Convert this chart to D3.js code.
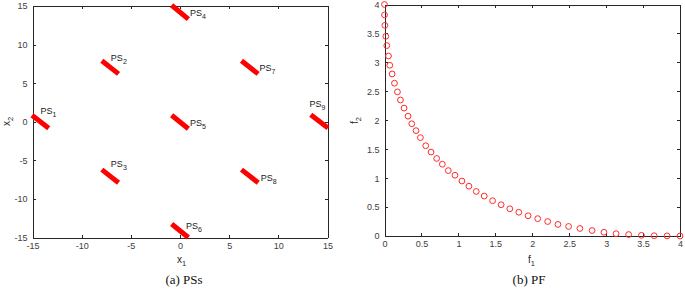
<!DOCTYPE html>
<html><head><meta charset="utf-8">
<script src="https://cdn.jsdelivr.net/npm/d3@7"></script>
<style>
html,body{margin:0;padding:0;background:#fff;}
svg text{font-family:"Liberation Sans",Arial,Helvetica,sans-serif;}
</style></head>
<body><svg id="c" width="685" height="290"></svg>
<script>
// ---------- data ----------
const psNames = ["1","2","3","4","5","6","7","8","9"];
const psStartX = [-15.05, -7.95, -7.95, -0.85, -0.85, -0.85, 6.25, 6.25, 13.3];
const psStartY = [0.85, 7.9, -6.2, 15.1, 0.85, -13.25, 7.9, -6.2, 0.9];
const psEndX   = [-13.35, -6.25, -6.25, 0.85, 0.85, 0.85, 7.95, 7.95, 15.05];
const psEndY   = [-0.85, 6.2, -7.9, 13.3, -0.9, -15.0, 6.2, -7.9, -0.8];
const psLabelX = [-14.18, -7.03, -7.03, 1.02, 1.02, 0.61, 8.08, 8.22, 13.17];
const psLabelY = [0.95, 7.81, -5.92, 13.64, -0.6, -13.95, 6.52, -7.7, 1.85];
const psTicks = [-15, -10, -5, 0, 5, 10, 15];

const pfF1 = [0, 0, 0.005, 0.018, 0.031, 0.054, 0.072, 0.103, 0.135, 0.175, 0.216, 0.265, 0.319, 0.369, 0.427, 0.486, 0.558, 0.630, 0.706, 0.783, 0.864, 0.954, 1.048, 1.143, 1.242, 1.350, 1.463, 1.579, 1.696, 1.818, 1.944, 2.074, 2.209, 2.348, 2.492, 2.645, 2.81, 2.97, 3.135, 3.305, 3.478, 3.65, 3.825, 4.0];
const pfF2 = [4.0, 3.82, 3.64, 3.45, 3.29, 3.11, 2.95, 2.80, 2.64, 2.49, 2.35, 2.21, 2.07, 1.94, 1.82, 1.70, 1.56, 1.45, 1.34, 1.24, 1.13, 1.05, 0.95, 0.86, 0.77, 0.69, 0.61, 0.54, 0.47, 0.41, 0.35, 0.30, 0.25, 0.20, 0.165, 0.13, 0.095, 0.065, 0.04, 0.025, 0.012, 0.005, 0.002, 0];
const pfTicks = [0, 0.5, 1, 1.5, 2, 2.5, 3, 3.5, 4];
const pfTickLabels = ["0","0.5","1","1.5","2","2.5","3","3.5","4"];

// ---------- drawing ----------
const svg = d3.select("#c");
const axisColor = "#262626";
const tickTextColor = "#404040";

function panel(opts) {
  const {x0, x1, y0, y1, xDom, yDom, xTicks, yTicks, xFmt, yFmt} = opts;
  const x = d3.scaleLinear().domain(xDom).range([x0, x1]);
  const y = d3.scaleLinear().domain(yDom).range([y1, y0]);
  const g = svg.append("g");
  const tl = 3;
  const bottom = d3.axisBottom(x).tickValues(xTicks).tickSizeInner(-tl).tickSizeOuter(0).tickPadding(5).tickFormat(xFmt);
  const top = d3.axisTop(x).tickValues(xTicks).tickSizeInner(-tl).tickSizeOuter(0).tickFormat("");
  const left = d3.axisLeft(y).tickValues(yTicks).tickSizeInner(-tl).tickSizeOuter(0).tickPadding(5).tickFormat(yFmt);
  const right = d3.axisRight(y).tickValues(yTicks).tickSizeInner(-tl).tickSizeOuter(0).tickFormat("");
  const gb = g.append("g").attr("transform", `translate(0,${y1})`).call(bottom);
  const gt = g.append("g").attr("transform", `translate(0,${y0})`).call(top);
  const gl = g.append("g").attr("transform", `translate(${x0},0)`).call(left);
  const gr = g.append("g").attr("transform", `translate(${x1},0)`).call(right);
  [gb, gt, gl, gr].forEach(a => {
    a.attr("font-family", null);
    a.selectAll("path,line").attr("stroke", axisColor).attr("stroke-width", 1).attr("shape-rendering", "crispEdges");
    a.selectAll("text").attr("fill", tickTextColor).style("font-size", "9px").style("font-family", "'Liberation Sans',Arial,sans-serif");
  });
  gb.selectAll("text").attr("dy", "0.71em");
  return {x, y, g};
}

// Panel (a)
const A = panel({x0: 32.5, x1: 327.5, y0: 6, y1: 237.5, xDom: [-15, 15], yDom: [-15, 15],
  xTicks: psTicks, yTicks: psTicks, xFmt: d => d, yFmt: d => d});

const psIdx = d3.range(psNames.length);
A.g.selectAll("line.ps").data(psIdx).join("line").attr("class", "ps")
  .attr("x1", i => A.x(psStartX[i])).attr("y1", i => A.y(psStartY[i]))
  .attr("x2", i => A.x(psEndX[i])).attr("y2", i => A.y(psEndY[i]))
  .attr("stroke", "#ff0000").attr("stroke-width", 5);

const lab = A.g.selectAll("text.psl").data(psIdx).join("text").attr("class", "psl")
  .attr("x", i => A.x(psLabelX[i])).attr("y", i => A.y(psLabelY[i]))
  .attr("fill", "#1a1a1a").style("font-size", "9px");
lab.append("tspan").text("PS");
lab.append("tspan").attr("dy", 3).style("font-size", "7px").text(i => psNames[i]);

// axis labels (a)
const xl = svg.append("text").attr("x", 177).attr("y", 263).attr("fill", "#262626").style("font-size", "10px");
xl.append("tspan").text("x");
xl.append("tspan").attr("dy", 3).style("font-size", "7.5px").text("1");
const yl = svg.append("text").attr("transform", "translate(10,126) rotate(-90)").attr("fill", "#262626").style("font-size", "10px");
yl.append("tspan").text("x");
yl.append("tspan").attr("dy", 3).style("font-size", "7.5px").text("2");

// Panel (b)
const B = panel({x0: 384.5, x1: 680, y0: 4.5, y1: 236, xDom: [0, 4], yDom: [0, 4],
  xTicks: pfTicks, yTicks: pfTicks, xFmt: (d, i) => pfTickLabels[i], yFmt: (d, i) => pfTickLabels[i]});

B.g.selectAll("circle.pf").data(pfF1).join("circle").attr("class", "pf")
  .attr("cx", (d, i) => B.x(pfF1[i])).attr("cy", (d, i) => B.y(pfF2[i]))
  .attr("r", 2.9).attr("fill", "none").attr("stroke", "#ff2a2a").attr("stroke-width", 1);

const fl = svg.append("text").attr("x", 528).attr("y", 263).attr("fill", "#262626").style("font-size", "10px");
fl.append("tspan").text("f");
fl.append("tspan").attr("dy", 3).style("font-size", "7.5px").text("1");
const f2l = svg.append("text").attr("transform", "translate(358,124) rotate(-90)").attr("fill", "#262626").style("font-size", "10px");
f2l.append("tspan").text("f");
f2l.append("tspan").attr("dy", 3).style("font-size", "7.5px").text("2");

// captions
svg.append("text").attr("x", 184).attr("y", 284).attr("text-anchor", "middle")
  .style("font-family", "'Liberation Serif','Times New Roman',serif").style("font-size", "13px").attr("fill", "#111").text("(a) PSs");
svg.append("text").attr("x", 529).attr("y", 284).attr("text-anchor", "middle")
  .style("font-family", "'Liberation Serif','Times New Roman',serif").style("font-size", "13px").attr("fill", "#111").text("(b) PF");
</script></body></html>
